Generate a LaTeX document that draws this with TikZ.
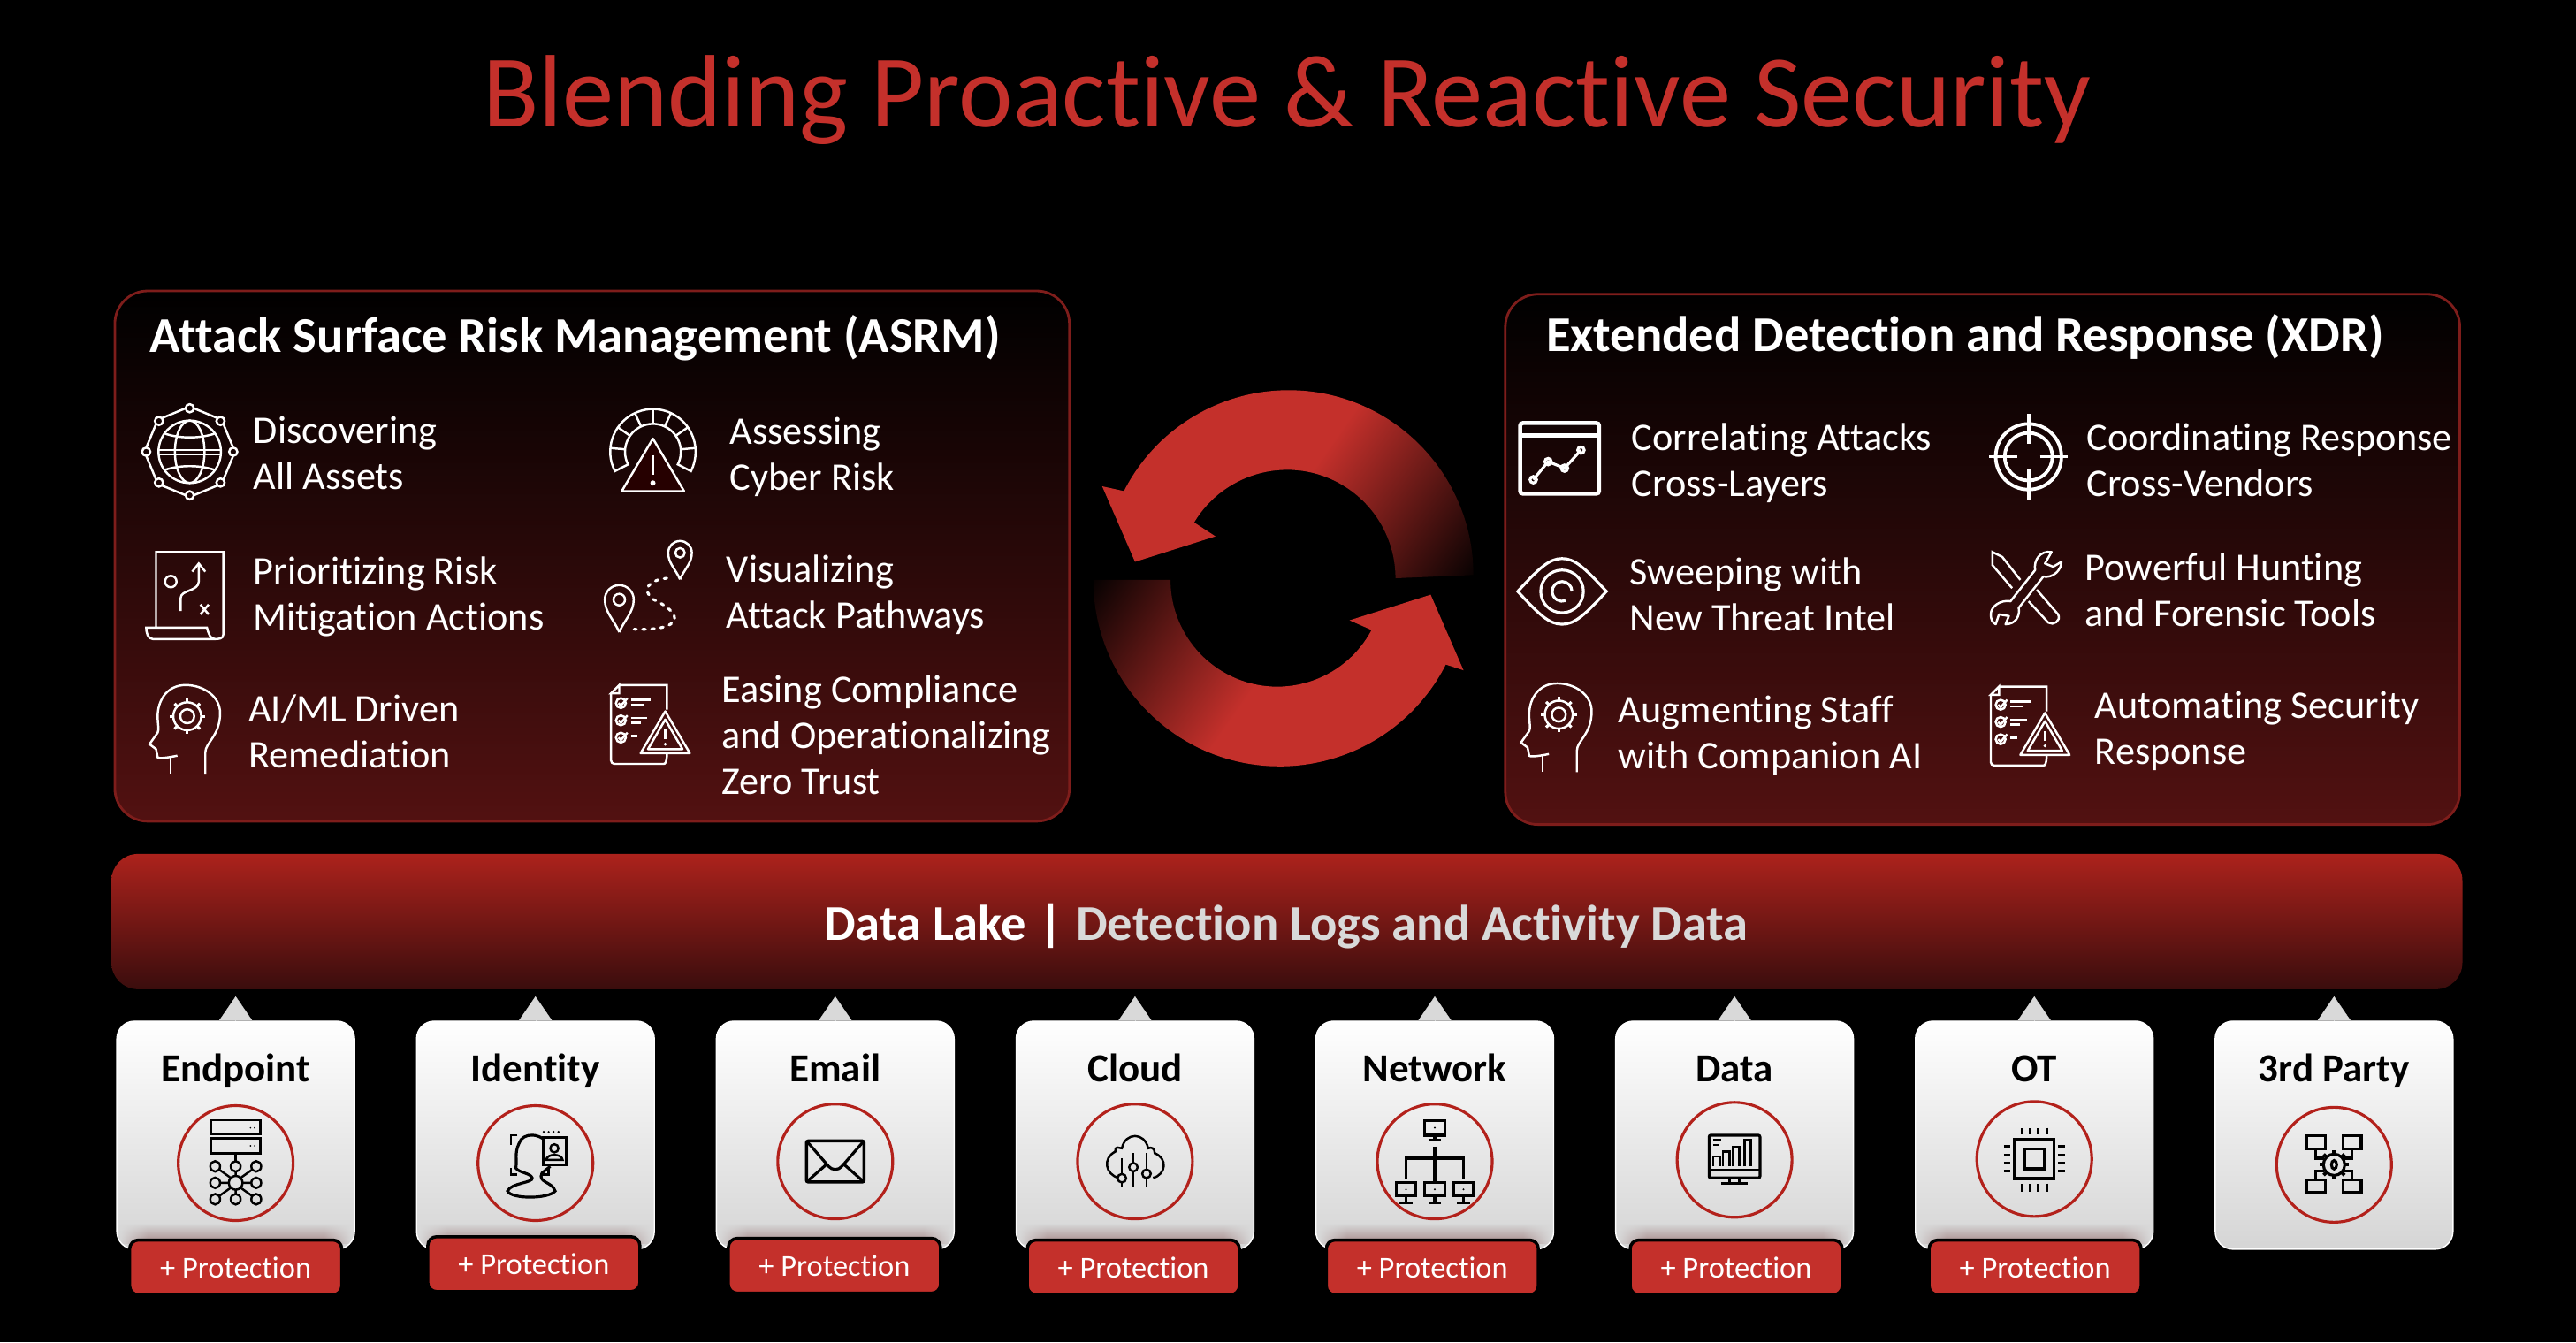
\documentclass[tikz,border=0pt]{standalone}
\usepackage{fontspec}
\setmainfont{Carlito}[Ligatures=NoCommon]
\usetikzlibrary{arrows.meta, fadings}

\definecolor{brandred}{HTML}{C4302B}
\definecolor{panelred}{HTML}{521111}
\definecolor{panelline}{HTML}{7E1D1B}
\definecolor{laketop}{HTML}{AC221C}
\definecolor{lakelow}{HTML}{3A0D0D}
\definecolor{lakegrey}{HTML}{D9D9D9}
\definecolor{cardlow}{HTML}{D5D5D5}
\definecolor{ringred}{HTML}{B3211B}
\definecolor{glowred}{HTML}{A58686}

\pgfdeclarehorizontalshading{cyclefade}{100bp}{color(0bp)=(brandred); color(52bp)=(brandred); color(86bp)=(black); color(100bp)=(black)}
\pgfdeclarehorizontalshading{glowmask}{100bp}{color(0bp)=(pgftransparent!100); color(25bp)=(pgftransparent!100); color(31bp)=(pgftransparent!0); color(69bp)=(pgftransparent!0); color(75bp)=(pgftransparent!100); color(100bp)=(pgftransparent!100)}
\pgfdeclarefading{glowsides}{\pgfuseshading{glowmask}}

\newcommand{\cogat}[2]{% centre, radius
  \draw #1 circle (#2);
  \draw #1 circle ({#2*.5});
  \foreach \a in {0,45,...,315} \draw[line width=.9pt] #1 ++(\a:#2) -- ++(\a:{#2*.28});
}

\tikzset{
  panel/.style={draw=panelline, line width=.8pt, rounded corners=.37cm, top color=black, bottom color=panelred, minimum width=10.8cm, minimum height=6cm, inner sep=0pt},
  paneltitle/.style={anchor=west, inner sep=0pt, text=white, font=\fontsize{16.1}{20}\selectfont\bfseries},
  item/.style={anchor=west, align=left, inner sep=0pt, text=white, font=\fontsize{12.6}{14.8}\selectfont},
  lakebar/.style={rounded corners=.3cm, top color=laketop, bottom color=lakelow, minimum width=26.6cm, minimum height=1.53cm, inner sep=0pt},
  laketext/.style={inner sep=0pt, text=white, font=\fontsize{16.1}{19}\selectfont\bfseries},
  cardbox/.style={draw=white, line width=.4pt, rounded corners=.2cm, top color=white, bottom color=cardlow, minimum width=2.69cm, minimum height=2.58cm, inner sep=0pt},
  cardtitle/.style={anchor=base, inner sep=0pt, text=black, font=\fontsize{12.8}{15}\selectfont\bfseries},
  ring/.style={circle, draw=ringred, line width=.9pt, minimum size=1.3cm, inner sep=0pt},
  feed/.style={draw=lakegrey, line width=.1pt, -{Triangle[length=.27cm,width=.37cm,fill=lakegrey]}, shorten >=.074cm},
  glow/.style={top color=cardlow, bottom color=glowred, path fading=glowsides, minimum width=2.6cm, minimum height=.22cm, inner sep=0pt, anchor=south},
  addon/.style={draw=black, line width=1pt, rounded corners=.1cm, fill=brandred, minimum width=2.4cm, minimum height=.62cm, inner sep=0pt},
  addontext/.style={inner sep=0pt, anchor=base, text=white, font=\fontsize{9.8}{12}\selectfont},
  cyclearrow/.style={shading=cyclefade},
  whiteicon/.style={white, line width=.7pt},
  blackicon/.style={black, line width=.7pt},
  globeicon/.pic={
    \draw (0,0) circle (19);
    \draw (0,0) ellipse (9 and 19);
    \draw (-19,-1) -- (19,-1) (-19,1.5) -- (19,1.5);
    \draw (-15,-11) .. controls (-6,-8) and (6,-8) .. (15,-11);
    \draw (-15,11) .. controls (-6,8) and (6,8) .. (15,11);
    \foreach \a in {0,45,...,315} {
      \draw (\a:26.5) circle (2.5);
      \draw ({\a+6}:26.5) -- ({\a+39}:26.5);
    }
  },
  gaugeicon/.pic={
    \draw (153:26) arc[start angle=153, end angle=387, radius=26] -- (27:17) arc[start angle=27, end angle=-207, radius=17] -- cycle;
    \foreach \a in {185,215,245,270,295,325,355} \draw (\a:17) -- (\a:26);
    \draw[fill=black!85!red, line join=round] (0,-8) -- (19,24) -- (-19,24) -- cycle;
    \draw[line width=1pt] (0,2) -- (0,14);
    \fill (0,19) circle (1.6);
  },
  mapicon/.pic={
    \draw (-18,20) -- (-18,-26) -- (23,-26) -- (23,24) .. controls (23,27) and (20,27) .. (18,27) -- (-20,27) .. controls (-23,27) and (-24,23) .. (-24,20) -- (13,20) .. controls (14,24) and (15,27) .. (18,27);
    \draw (-9,-8) circle (3.5);
    \draw (-3,10) -- (-3,2) .. controls (-3,-3) and (8,-2) .. (8,-8) -- (8,-19);
    \draw (4,-14) -- (8,-19) -- (12,-14);
    \draw (9,6) -- (14,12) (14,6) -- (9,12);
  },
  pinicon/.pic={
    \draw (0,13) .. controls (-3,6) and (-8,2) .. (-8,-5) arc[start angle=180, end angle=360, radius=8] .. controls (8,2) and (3,6) .. (0,13);
    \draw (0,-5) circle (3.2);
  },
  routeicon/.pic={
    \pic[scale=.9] at (22,-17) {pinicon};
    \pic[scale=1.1] at (-15,12.5) {pinicon};
    \draw[dotted, line cap=round, line width=.9pt] (14,-6) .. controls (3,-5) and (-2,1) .. (6,7) .. controls (25,16) and (24,26) .. (-6,25);
  },
  headicon/.pic={
    \draw (12,27) -- (12,14) .. controls (12,8) and (21,4) .. (21,-10) .. controls (21,-20) and (11,-27) .. (0,-27) .. controls (-11,-27) and (-17,-18) .. (-17,-8) .. controls (-17,-3) and (-16,0) .. (-17,2) -- (-22,9) -- (-18,12) -- (-17,17) .. controls (-16,18) and (-10,17) .. (-5,16);
    \draw (-9,17) -- (-9,27);
    \cogat{(1,-8)}{8.5}
  },
  checkicon/.pic={
    \draw (-19,-24) -- (10,-24) -- (10,-9) (-24,-19) -- (-19,-24) -- (-19,-19) -- cycle;
    \draw (-24,-19) -- (-24,22) .. controls (-24,23) and (-23,24) .. (-22,24) -- (8,24) .. controls (9,24) and (10,23) .. (10,18);
    \foreach \y in {-13,-2.5,8} {
      \draw (-18,\y) circle (3);
      \draw (-19.5,\y) -- (-18,{\y+1.5}) -- (-14,{\y-3});
    }
    \draw (-12,-15) -- (0,-15) (-12,-12) -- (-4,-12) (-12,-4) -- (-2,-4) (-12,-1) -- (-6,-1) (-12,7) -- (-8,7);
    \draw[line join=round] (9,-8) -- (24,17.5) -- (-6,17.5) -- cycle;
    \draw[line join=round] (9,-3) -- (19.5,15) -- (-1.5,15) -- cycle;
    \draw (9,3) -- (9,9);
    \fill (9,12) circle (1);
  },
  charticon/.pic={
    \draw[line width=1.3pt, rounded corners=.03cm] (-24,-21.5) rectangle (24,21.5);
    \draw[line width=1.3pt] (-24,-14) -- (24,-14);
    \draw[line width=.9pt] (-16,13) -- (-7,2) -- (3,6) -- (13,-5);
    \foreach \p in {(-16,13),(-7,2),(3,6),(13,-5)} \draw[line width=.9pt] \p circle (2);
  },
  crossicon/.pic={
    \draw[line width=1.1pt] (0,0) circle (20);
    \draw[line width=1.1pt] (0,0) circle (14.5);
    \draw[line width=1.1pt] (0,-26) -- (0,-8) (0,8) -- (0,26) (-24,0) -- (-7,0) (7,0) -- (24,0);
  },
  eyeicon/.pic={
    \draw[line width=.9pt] (-27,0) .. controls (-14,-14) and (-8,-20) .. (0,-20) .. controls (8,-20) and (14,-14) .. (27,0) .. controls (14,14) and (8,20) .. (0,20) .. controls (-8,20) and (-14,14) .. (-27,0) -- cycle;
    \draw[line width=.9pt] (0,0) circle (13);
    \draw[line width=.9pt] (6,0) arc[start angle=0, end angle=-290, radius=6];
  },
  toolsicon/.pic={
    \draw[line join=round] (16,-22) .. controls (9,-23) and (5,-17) .. (6,-11) -- (-9,8) .. controls (-15,7) and (-21,11) .. (-21,16) .. controls (-21,19) and (-20,21) .. (-18,22) -- (-16,16) -- (-10,17) -- (-12,22) .. controls (-6,22) and (-3,17) .. (-4,12) -- (11,-7) .. controls (17,-6) and (22,-11) .. (22,-16) -- (17,-13) -- (12,-15) -- cycle;
    \draw (-8,0) -- (-20,-14) -- (-20,-22) -- (-14,-19) -- (-3,-5);
    \draw (2,8) -- (14,21) .. controls (17,23) and (22,20) .. (20,16) -- (7,1);
  },
  servericon/.pic={
    \draw (-15,-26) rectangle (15,-17.5);
    \draw (-15,-15) rectangle (15,-6);
    \fill (9,-21.5) circle (.5) (11.5,-21.5) circle (.5) (9,-10.5) circle (.5) (11.5,-10.5) circle (.5);
    \draw (0,-6) -- (0,-1);
    \foreach \x/\y in {-12.5/2,0/2,12.5/2,-12.5/12,12.5/12,-12.5/22,0/22,12.5/22} {
      \draw (\x,\y) ellipse (3 and 3.2);
    }
    \draw (0,12) circle (4.2);
    \draw (-10,4) -- (-3,9) (0,5) -- (0,8) (10,4) -- (3,9) (-9.5,12) -- (-4,12) (9.5,12) -- (4,12) (-10,20) -- (-3,15) (0,19) -- (0,16) (10,20) -- (3,15);
  },
  badgeicon/.pic={
    \draw[line width=.9pt] (9,-10) .. controls (4,-19) and (-8,-19) .. (-10,-12) .. controls (-13,-6) and (-11,-1) .. (-12,3) .. controls (-10,6) and (-3,6) .. (-2,9) .. controls (-1,12) and (-15,12) .. (-17,17) .. controls (-15,22) and (8,22) .. (12,17) .. controls (10,11) and (1,12) .. (4,6) -- (9,2);
    \draw[line width=.9pt, fill=cardlow!60!white] (4.5,-15.5) rectangle (18.5,1);
    \draw (11.5,-9) circle (2.5);
    \draw (6.5,-2) .. controls (7,-6) and (16,-6) .. (16.5,-2) -- cycle;
    \foreach \x in {5,8,11,14} \fill (\x,-19) circle (.7);
    \draw (-11,-17) -- (-15,-17) -- (-15,-11) (-15,3) -- (-15,7) -- (-11,7) (3,7) -- (8,7) -- (8,3);
  },
  mailicon/.pic={
    \draw[line width=1pt, rounded corners=.02cm] (-17.5,-12.5) rectangle (17.5,12.5);
    \draw[line width=.9pt] (-17.5,-12.5) -- (-4,3) .. controls (-2,5.5) and (2,5.5) .. (4,3) -- (17.5,-12.5);
    \draw[line width=.9pt] (-17.5,12.5) -- (-5,1.5) (17.5,12.5) -- (5,1.5);
  },
  cloudicon/.pic={
    \draw (-10,10) .. controls (-18,8) and (-20,-2) .. (-12,-6) .. controls (-12,-10) and (-10,-8) .. (-8,-8) .. controls (-6,-18) and (6,-18) .. (8,-8) .. controls (10,-9) and (12,-8) .. (12,-5) .. controls (20,-2) and (19,8) .. (11,10);
    \draw (-8,-2) -- (-8,7.5) (-8,13) -- (-8,16) (-1,-5) -- (-1,1) (-1,6) -- (-1,16) (7,-5) -- (7,5) (7,10) -- (7,16);
    \draw (-8,10.2) circle (2.6) (-1,3.5) circle (2.6) (7,7.5) circle (2.6);
  },
  neticon/.pic={
    \draw[line width=.9pt] (-6,-25) rectangle (6,-16) (0,-16) -- (0,-13) (-4,-13) -- (4,-13);
    \draw[line width=.9pt] (0,-9) -- (0,13) (-17.5,10.5) -- (-17.5,-2) -- (17.5,-2) -- (17.5,10.5);
    \foreach \x in {-17.5,0,17.5} {
      \draw[line width=.9pt] ({\x-6},13) rectangle ({\x+6},21);
      \draw[line width=.9pt] (\x,21) -- (\x,25) ({\x-4},25) -- ({\x+4},25);
      \fill (\x,17) circle (.6);
    }
    \fill (0,-20.5) circle (.6);
  },
  screenicon/.pic={
    \draw[line width=.9pt, rounded corners=.02cm] (-15.5,-15) rectangle (15.5,11);
    \draw[line width=.9pt] (-15.5,6.5) -- (15.5,6.5) (-3,11) -- (-3,14.5) (3,11) -- (3,14.5) (-8,14.5) -- (8,14.5);
    \draw (-13,4) -- (-13,-2) -- (-9,-2) -- (-9,4) (-7,4) -- (-7,-5) -- (-3,-5) -- (-3,4) (-1,4) -- (-1,-8) -- (3,-8) -- (3,4) (6,4) -- (6,-12) -- (10,-12) -- (10,4);
    \draw (-13,-12) -- (-8,-12) (-13,-9) -- (-9,-9);
  },
  chipicon/.pic={
    \draw[line width=1pt] (-12,-12) rectangle (12,12);
    \draw[line width=1pt] (-6,-6) rectangle (6,6);
    \foreach \d in {-7.5,-2.5,2.5,7.5} {
      \draw[line width=.9pt] (\d,-19) -- (\d,-15) (\d,15) -- (\d,20);
      \draw[line width=.9pt] (-18.5,\d) -- (-14.5,\d) (14.5,\d) -- (18.5,\d);
    }
  },
  meshicon/.pic={
    \foreach \x/\y in {-11/-13.5,11/-13.5,-11/13,11/13} \draw[line width=.9pt] ({\x-5.5},{\y-4}) rectangle ({\x+5.5},{\y+4});
    \draw[line width=.9pt] (-11,-9.5) -- (-11,-4) -- (-6,-4) (11,-9.5) -- (11,-4) -- (6,-4) (-11,9) -- (-11,4) -- (-6,4) (11,9) -- (11,4) -- (6,4);
    \draw[line width=.9pt] (0,0) circle (6.5);
    \draw[line width=.9pt] (0,0) ellipse (1.6 and 2.6);
    \foreach \a in {0,45,...,315} \draw[line width=1.1pt] (\a:6.5) -- (\a:9);
  }
}

% one source: card, tip to the lake, title, ring with its icon
\newcommand{\feedcard}[5]{
  \node[cardbox] (#1) at (#2,691) {};
  \draw[feed] (#1.north) -- (lake.south -| #1.north);
  \node[cardtitle] (#1title) at (#2,658.5) {#3};
  \node[ring] (#1ring) at (#2,#4) {};
  \pic[blackicon] at (#1ring.center) {#5};
}
\newcommand{\addonbutton}[3]{
  \node[glow] (#1glow) at ([yshift=.06cm]#1.south) {};
  \node[addon] (#1add) at (#2,#3) {};
  \node[addontext] (#1addtext) at (#2,{#3+6.5}) {+ Protection};
}

\begin{document}
\begin{tikzpicture}[x=.01858cm, y=-.01858cm]
  \useasboundingbox (0,0) rectangle (1568.3,817);
  \fill[black] (0,0) rectangle (1568.3,817);

  \node[text=brandred, font=\fontsize{33.15}{38}\selectfont] (heading) at (783.5,61) {Blending Proactive \& Reactive Security};

  % Left panel, ASRM
  \node[panel] (asrm) at (360.5,338.5) {};
  \node[paneltitle] (asrmtitle) at (91,205.5) {Attack Surface Risk Management (ASRM)};
  \pic[whiteicon] at (115.5,275) {globeicon};
  \node[item] (discover) at (154,276) {Discovering\\All Assets};
  \pic[whiteicon] at (397.5,275) {gaugeicon};
  \node[item] (assess) at (444,278) {Assessing\\Cyber Risk};
  \pic[whiteicon] at (113,362) {mapicon};
  \node[item] (prioritize) at (154,363) {Prioritizing Risk\\Mitigation Actions};
  \pic[whiteicon] at (392,358) {routeicon};
  \node[item] (visualize) at (442,362) {Visualizing\\Attack Pathways};
  \pic[whiteicon] at (113,444) {headicon};
  \node[item] (aiml) at (151,445) {AI/ML Driven\\Remediation};
  \pic[whiteicon] at (396,441) {checkicon};
  \node[item] (comply) at (439,447.5) {Easing Compliance\\and Operationalizing\\Zero Trust};

  % Right panel, XDR
  \node[panel] (xdr) at (1207,340.5) {};
  \node[paneltitle] (xdrtitle) at (941,205) {Extended Detection and Response (XDR)};
  \pic[whiteicon] at (949.5,279) {charticon};
  \node[item] (correlate) at (993,282) {Correlating Attacks\\Cross-Layers};
  \pic[whiteicon] at (1235,278) {crossicon};
  \node[item] (coordinate) at (1270,280) {Coordinating Response\\Cross-Vendors};
  \pic[whiteicon] at (951,360) {eyeicon};
  \node[item] (sweep) at (992,362) {Sweeping with\\New Threat Intel};
  \pic[whiteicon] at (1233,358) {toolsicon};
  \node[item] (hunt) at (1269,359) {Powerful Hunting\\and Forensic Tools};
  \pic[whiteicon] at (948,443) {headicon};
  \node[item] (augment) at (985,447.5) {Augmenting Staff\\with Companion AI};
  \pic[whiteicon] at (1236,442) {checkicon};
  \node[item] (automate) at (1275,445) {Automating Security\\Response};

  % Cycle between the panels
  \path[cyclearrow, shading angle=-35] (897,350) arc[start angle=0, end angle=-153, radius=112.5] -- (671,296) -- (691,342) -- (740,326.5) -- (727,318) arc[start angle=-149, end angle=0, radius=66] -- cycle;
  \path[cyclearrow, shading angle=145] (665.6,353) arc[start angle=180, end angle=27, radius=113.5] -- (891,408) -- (871,362) -- (821.6,377.6) -- (835,383.5) arc[start angle=28, end angle=180, radius=65] -- cycle;

  % Data lake
  \node[lakebar] (lake) at (783.5,561) {};
  \node[laketext] (laketitle) at (783,564) {Data Lake\hspace{4.2pt}|\hspace{4.2pt}\textcolor{lakegrey}{Detection Logs and Activity Data}};

  % Sources under the lake
  \feedcard{endpoint}{143.5}{Endpoint}{708}{servericon}
  \feedcard{identity}{326}{Identity}{708}{badgeicon}
  \feedcard{email}{508.5}{Email}{707}{mailicon}
  \feedcard{cloud}{691}{Cloud}{707}{cloudicon}
  \feedcard{network}{873.5}{Network}{707}{neticon}
  \feedcard{data}{1056}{Data}{706}{screenicon}
  \feedcard{ot}{1238.5}{OT}{705.5}{chipicon}
  \feedcard{thirdparty}{1421}{3rd Party}{709}{meshicon}

  \addonbutton{endpoint}{143.5}{771.5}
  \addonbutton{identity}{325}{769.5}
  \addonbutton{email}{508}{770.5}
  \addonbutton{cloud}{690}{771.5}
  \addonbutton{network}{872}{771.5}
  \addonbutton{data}{1057}{771.5}
  \addonbutton{ot}{1239}{771.5}
\end{tikzpicture}
\end{document}
